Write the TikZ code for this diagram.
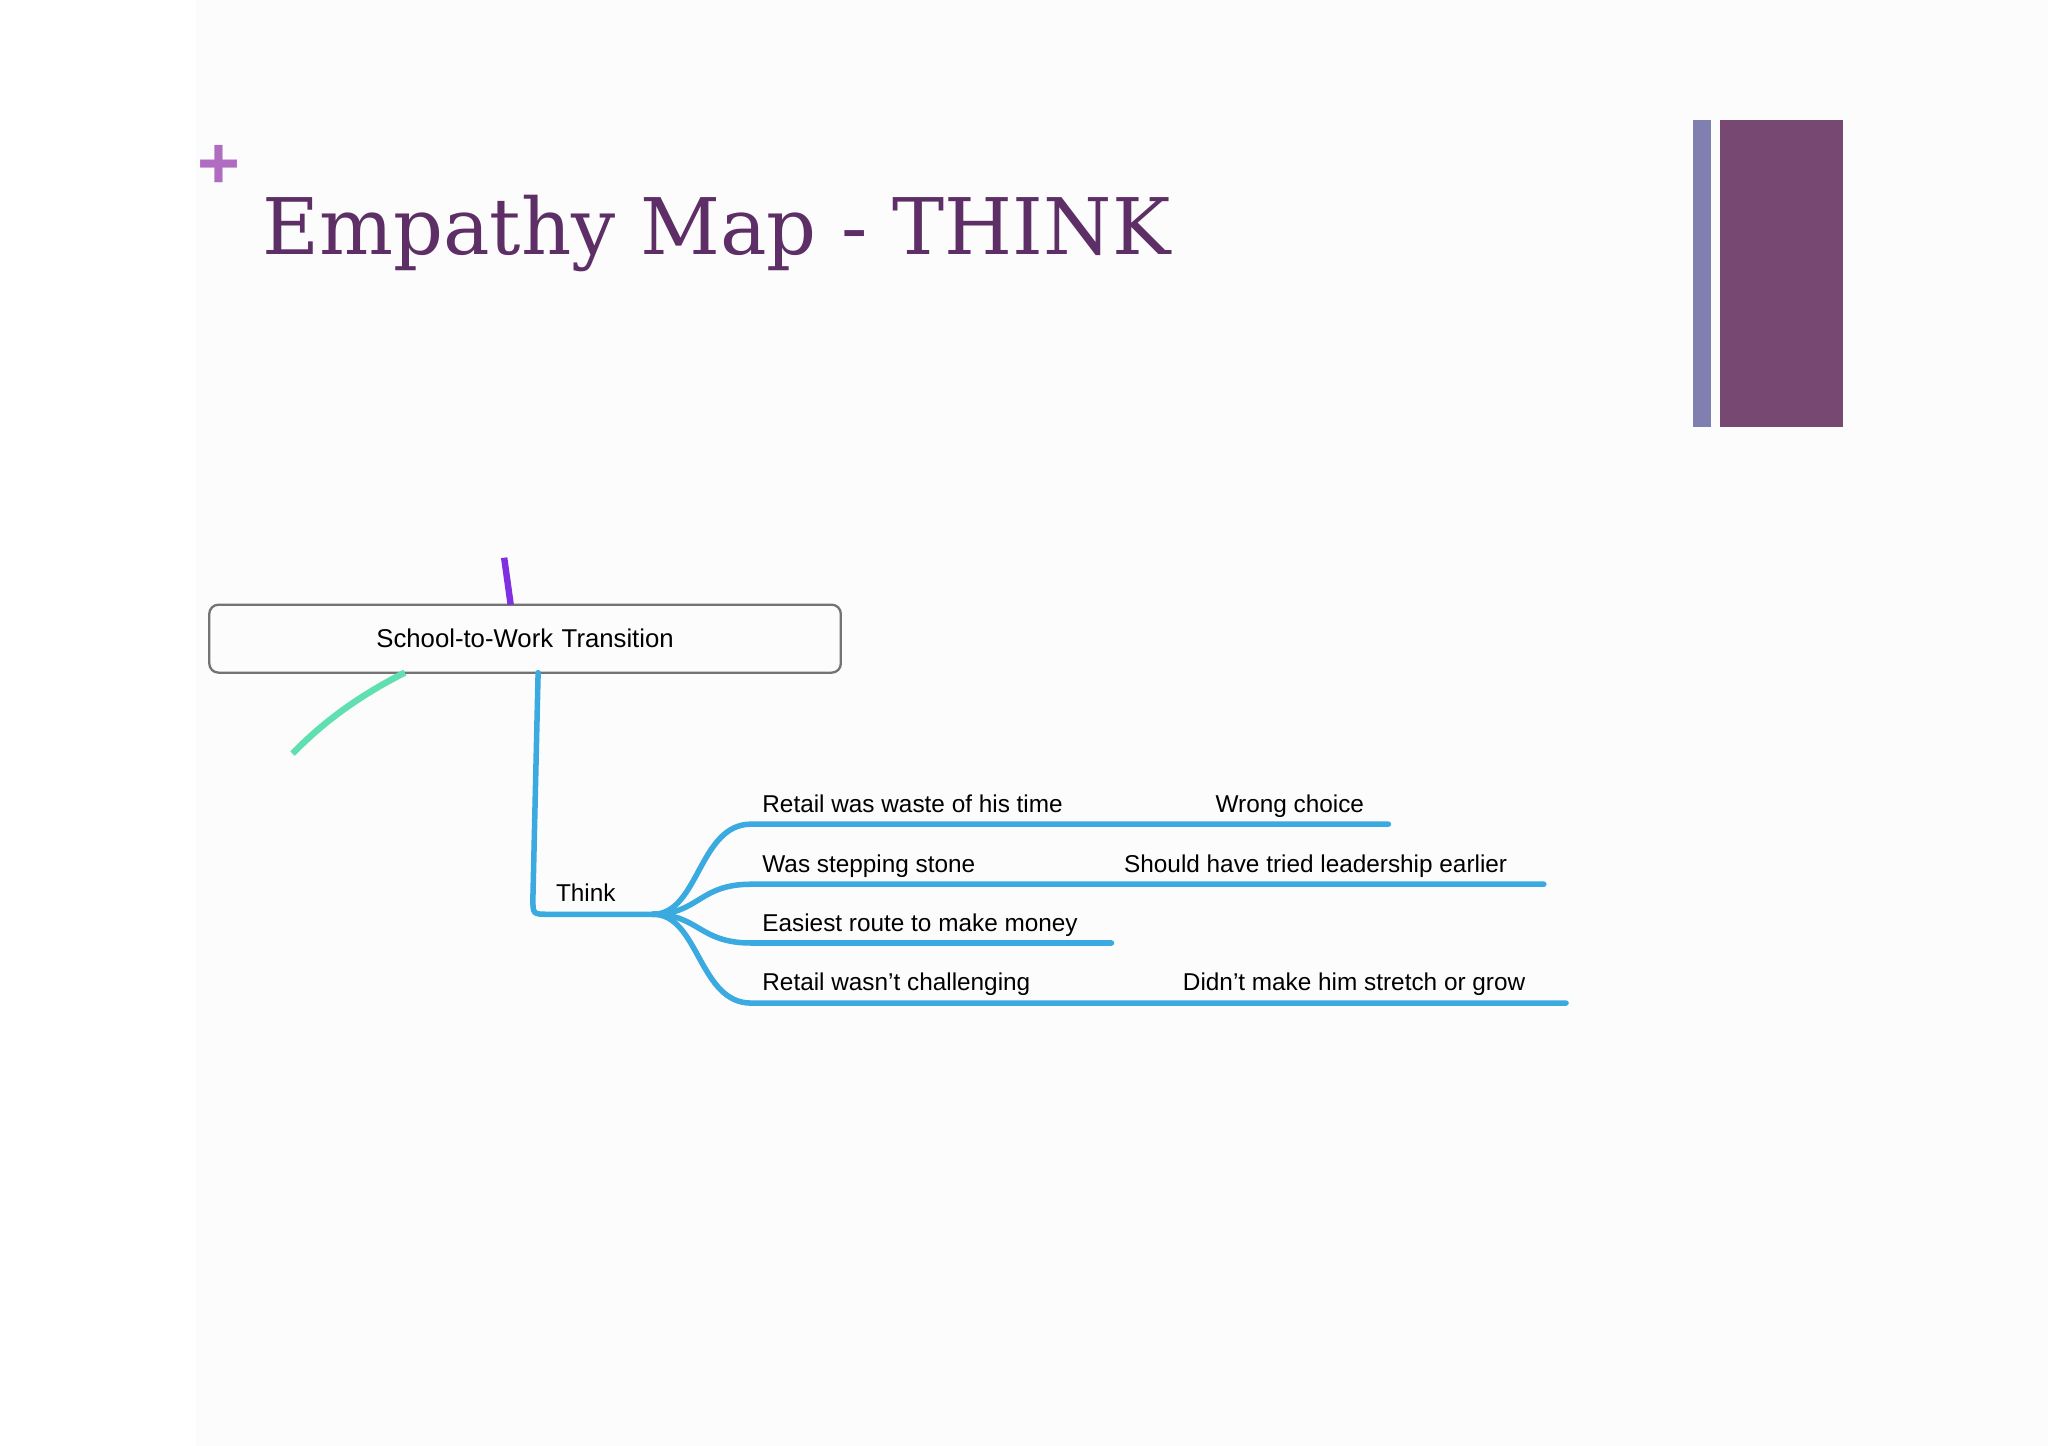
\documentclass[tikz,border=0pt]{standalone}
\usepackage{fontspec}
\setmainfont{Liberation Sans}
\newfontfamily\titlefont{DejaVu Serif}
\definecolor{ttl}{HTML}{5E2F66}
\definecolor{plus}{HTML}{B06CC0}
\definecolor{bar1}{HTML}{8080B0}
\definecolor{bar2}{HTML}{774872}
\definecolor{br}{HTML}{3AAAE0}
\definecolor{tl}{HTML}{60E0B0}
\definecolor{pu}{HTML}{8030E0}
\tikzset{lbl/.style={anchor=base west,inner sep=0pt,font=\fontsize{5.3pt}{6pt}\selectfont},
 brl/.style={br,line width=1.2pt,line cap=round}}
\begin{document}
\begin{tikzpicture}[x=0.01cm,y=-0.01cm]
\useasboundingbox[fill=white] (0,0) rectangle (1568,1107);
\fill[black!1] (150,0) rectangle (1568,1107);
\node[font=\bfseries\fontsize{16pt}{16pt}\selectfont,text=plus] (plus) at (168,128) {+};
\node[anchor=base west,inner sep=0pt,text=ttl,font=\titlefont\fontsize{17pt}{20pt}\selectfont] (title) at (200,195) {Empathy Map - THINK};
\fill[bar1] (1296,92) rectangle (1310,327);
\fill[bar2] (1317,92) rectangle (1411,327);
\coordinate (ptop) at (386,427);
\coordinate (tstart) at (224,577);
\node[draw=black!55,rounded corners=2pt,line width=0.5pt,minimum width=275\pgflinewidth,inner sep=0pt,
 font=\fontsize{5.6pt}{6pt}\selectfont,minimum height=0.52cm,text width=2.55cm,align=center] (root) at (402,489) {School-to-Work Transition};
\draw[pu,line width=1.4pt] (ptop) -- (391,463);
\draw[tl,line width=1.4pt] (tstart) .. controls (250,550) and (280,530) .. (310,515);
\coordinate (hub) at (500,700);
\draw[brl] (412,515) -- (408,688) .. controls (408,700) .. (420,700) -- (hub);
\node[lbl] (think) at (425,690) {Think};
\foreach \y/\e/\n in {631/1063/a,677/1182/b,722/851/c,768/1199/d}{
  \coordinate (e\n) at (\e,\y);
  \draw[brl] (hub) .. controls (535,700) and (535,\y) .. (575,\y) -- (e\n);
}
\node[lbl] (t1) at (583,622) {Retail was waste of his time};
\node[lbl] (t2) at (583,668) {Was stepping stone};
\node[lbl] (t3) at (583,713) {Easiest route to make money};
\node[lbl] (t4) at (583,758) {Retail wasn't challenging};
\node[lbl] (s1) at (930,622) {Wrong choice};
\node[lbl] (s2) at (860,668) {Should have tried leadership earlier};
\node[lbl] (s4) at (905,758) {Didn't make him stretch or grow};
\end{tikzpicture}
\end{document}
